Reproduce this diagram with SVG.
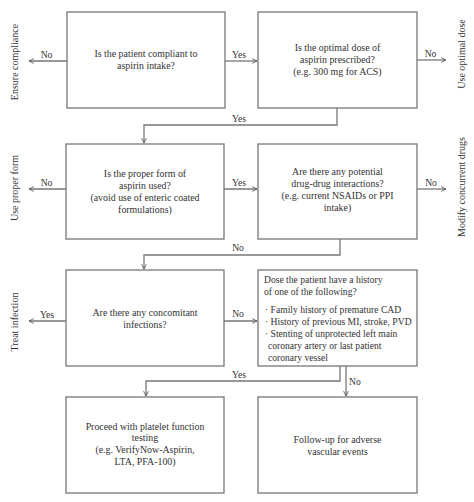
<svg xmlns="http://www.w3.org/2000/svg" width="474" height="502" viewBox="0 0 474 502">
<defs>
<marker id="ah" viewBox="0 0 10 10" refX="9" refY="5" markerWidth="6" markerHeight="6" orient="auto" markerUnits="userSpaceOnUse">
<path d="M1,1 L9,5 L1,9" fill="none" stroke="#555" stroke-width="1.4"/>
</marker>
<style>
.box{fill:#fff;stroke:#777;stroke-width:1.3}
.ln{fill:none;stroke:#777;stroke-width:1.3}
.t{font-family:"Liberation Serif",serif;font-size:9.6px;fill:#333}
.c{text-anchor:middle;font-size:9.9px}
.lb{font-family:"Liberation Serif",serif;font-size:9.6px;fill:#333;text-anchor:middle}
.v{font-family:"Liberation Serif",serif;font-size:10px;fill:#333;text-anchor:middle}
</style>
</defs>
<rect width="474" height="502" fill="#fff"/>
<g id="connectors">
<path class="ln" d="M67,61 H29" marker-end="url(#ah)"/>
<path class="ln" d="M225,61 H257" marker-end="url(#ah)"/>
<path class="ln" d="M417,60 H446" marker-end="url(#ah)"/>
<path class="ln" d="M337,108 V125 H144 V143" marker-end="url(#ah)"/>
<path class="ln" d="M66,189 H29" marker-end="url(#ah)"/>
<path class="ln" d="M224,189 H257" marker-end="url(#ah)"/>
<path class="ln" d="M417,189 H446" marker-end="url(#ah)"/>
<path class="ln" d="M340,239 V255 H144 V269" marker-end="url(#ah)"/>
<path class="ln" d="M66,321 H29" marker-end="url(#ah)"/>
<path class="ln" d="M224,321 H257" marker-end="url(#ah)"/>
<path class="ln" d="M340,366 V381 H146 V396" marker-end="url(#ah)"/>
<path class="ln" d="M346,366 V396" marker-end="url(#ah)"/>
<text class="lb" x="46.5" y="58">No</text>
<text class="lb" x="239" y="58">Yes</text>
<text class="lb" x="430.5" y="57">No</text>
<text class="lb" x="239" y="122">Yes</text>
<text class="lb" x="46.5" y="186">No</text>
<text class="lb" x="239" y="186">Yes</text>
<text class="lb" x="431" y="186">No</text>
<text class="lb" x="238" y="251">No</text>
<text class="lb" x="47" y="318">Yes</text>
<text class="lb" x="238" y="317">No</text>
<text class="lb" x="239" y="378">Yes</text>
<text class="t" x="349" y="385">No</text>
</g>
<g id="n-ensure"><text class="v" transform="translate(18,62) rotate(-90)">Ensure compliance</text></g>
<g id="n-optimal"><text class="v" transform="translate(465,54) rotate(-90)">Use optimal dose</text></g>
<g id="n-form"><text class="v" transform="translate(18,188) rotate(-90)">Use proper form</text></g>
<g id="n-modify"><text class="v" transform="translate(465,187) rotate(-90)">Modify concurrent drugs</text></g>
<g id="n-treat"><text class="v" transform="translate(18,322) rotate(-90)">Treat infection</text></g>
<g id="q1">
<rect class="box" x="67" y="12" width="158" height="96"/>
<text class="t c" x="146" y="57">Is the patient compliant to</text>
<text class="t c" x="146" y="69">aspirin intake?</text>
</g>
<g id="q2">
<rect class="box" x="258" y="12" width="159" height="96"/>
<text class="t c" x="337.5" y="51">Is the optimal dose of</text>
<text class="t c" x="337.5" y="63">aspirin prescribed?</text>
<text class="t c" x="337.5" y="75">(e.g. 300 mg for ACS)</text>
</g>
<g id="q3">
<rect class="box" x="66" y="144" width="158" height="95"/>
<text class="t c" x="145" y="177">Is the proper form of</text>
<text class="t c" x="145" y="189">aspirin used?</text>
<text class="t c" x="145" y="201">(avoid use of enteric coated</text>
<text class="t c" x="145" y="213">formulations)</text>
</g>
<g id="q4">
<rect class="box" x="258" y="144" width="159" height="95"/>
<text class="t c" x="337.5" y="175">Are there any potential</text>
<text class="t c" x="337.5" y="187">drug-drug interactions?</text>
<text class="t c" x="337.5" y="199">(e.g. current NSAIDs or PPI</text>
<text class="t c" x="337.5" y="211">intake)</text>
</g>
<g id="q5">
<rect class="box" x="66" y="270" width="158" height="96"/>
<text class="t c" x="145" y="316">Are there any concomitant</text>
<text class="t c" x="145" y="328">infections?</text>
</g>
<g id="q6">
<rect class="box" x="258" y="270" width="159" height="96"/>
<text class="t" x="264" y="283">Dose the patient have a history</text>
<text class="t" x="264" y="295">of one of the following?</text>
<text class="t" x="265" y="313">· Family history of premature CAD</text>
<text class="t" x="265" y="325">· History of previous MI, stroke, PVD</text>
<text class="t" x="265" y="337">· Stenting of unprotected left main</text>
<text class="t" x="268" y="349">coronary artery or last patient</text>
<text class="t" x="268" y="361">coronary vessel</text>
</g>
<g id="r1">
<rect class="box" x="66" y="397" width="158" height="96"/>
<text class="t c" x="145" y="430">Proceed with platelet function</text>
<text class="t c" x="145" y="441">testing</text>
<text class="t c" x="145" y="453">(e.g. VerifyNow-Aspirin,</text>
<text class="t c" x="145" y="465">LTA, PFA-100)</text>
</g>
<g id="r2">
<rect class="box" x="258" y="397" width="159" height="96"/>
<text class="t c" x="337.5" y="443">Follow-up for adverse</text>
<text class="t c" x="337.5" y="455">vascular events</text>
</g>
</svg>
